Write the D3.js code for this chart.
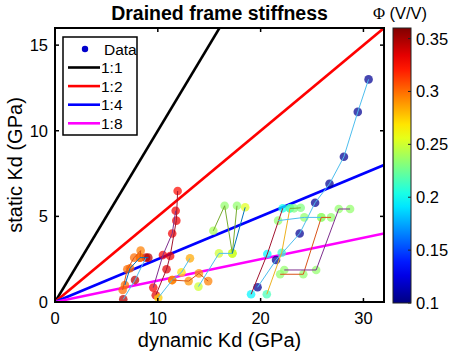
<!DOCTYPE html>
<html><head><meta charset="utf-8">
<script src="https://cdn.jsdelivr.net/npm/d3@7"></script>
<style>body{margin:0;background:#fff}svg{display:block;font-family:"Liberation Sans",Arial,sans-serif}</style>
</head><body><svg id="c" width="474" height="354"></svg>
<script>
const xTicks = [0, 10, 20, 30];
const yTicks = [0, 5, 10, 15];
const cbTicks = [0.1, 0.15, 0.2, 0.25, 0.3, 0.35];
const ratioLines = [
  {label: "1:1", slope: 1, color: "#000000"},
  {label: "1:2", slope: 0.5, color: "#ff0000"},
  {label: "1:4", slope: 0.25, color: "#0000ff"},
  {label: "1:8", slope: 0.125, color: "#ff00ff"}
];
// each sample: line colour (MATLAB default order) and points [dynamic Kd, static Kd, porosity]
const s1 = [[19.7,0.86,0.105],[21.5,2.45,0.105],[23.8,4.0,0.105],[25.3,5.8,0.105],[26.7,6.9,0.105],[28.1,8.48,0.105],[29.45,11.1,0.105],[30.5,13.0,0.105]];
const s2 = [[9.56,0.84,0.33],[10.5,2.74,0.33],[11.4,4.0,0.33],[11.74,5.33,0.33]];
const s3 = [[9.8,0.39,0.335],[10.85,1.91,0.335],[11.2,2.69,0.33],[11.8,4.75,0.33],[11.93,6.48,0.325]];
const s4 = [[6.58,0.7,0.3],[7.03,1.91,0.3],[7.7,2.59,0.3],[8.33,3.0,0.295],[8.27,2.59,0.3]];
const s5 = [[6.64,0.16,0.345],[7.78,1.28,0.345],[8.85,2.59,0.345]];
const s6 = [[6.8,0.99,0.3],[7.3,1.97,0.3],[8.27,2.59,0.3],[9.08,2.59,0.345]];
const s7 = [[10.05,0.25,0.275],[11.4,1.28,0.295],[12.3,1.73,0.27],[13.13,2.55,0.285]];
const s8 = [[11.4,1.28,0.295],[13.0,1.22,0.29],[14.0,1.67,0.29],[14.9,1.22,0.295]];
const s9 = [[13.95,0.9,0.25],[15.95,2.84,0.25],[17.25,2.84,0.25]];
const s10 = [[15.4,4.16,0.24],[16.5,5.62,0.235],[17.25,2.84,0.25],[17.7,5.62,0.235]];
const s11 = [[17.25,2.84,0.25],[18.5,5.53,0.255]];
const s12 = [[19.07,0.45,0.195],[20.65,2.8,0.195],[22.15,5.47,0.2]];
const s13 = [[20.6,0.45,0.215],[22.05,2.88,0.21],[22.85,5.47,0.215]];
const s14 = [[21.7,4.75,0.235],[24.25,4.94,0.235],[25.9,4.94,0.235]];
const s15 = [[21.9,1.62,0.235],[24.15,1.62,0.235],[25.9,4.94,0.235],[26.85,4.94,0.235]];
const s16 = [[22.3,1.87,0.235],[25.4,1.87,0.235],[27.6,5.43,0.235],[28.7,5.43,0.235]];
const s17 = [[22.85,5.47,0.215],[23.25,5.47,0.23],[23.9,5.5,0.23]];
const samples = [
  {color:"#4DBEEE", pts:s1},{color:"#7E2F8E", pts:s2},{color:"#A2142F", pts:s3},
  {color:"#D95319", pts:s4},{color:"#4DBEEE", pts:s5},{color:"#0072BD", pts:s6},
  {color:"#4DBEEE", pts:s7},{color:"#D95319", pts:s8},{color:"#4DBEEE", pts:s9},
  {color:"#77AC30", pts:s10},{color:"#0072BD", pts:s11},{color:"#A2142F", pts:s12},
  {color:"#EDB120", pts:s13},{color:"#4DBEEE", pts:s14},{color:"#D95319", pts:s15},
  {color:"#7E2F8E", pts:s16},{color:"#77AC30", pts:s17}
];

const svg = d3.select("#c");
const L = 55, R = 384, T = 28, B = 302;
const x = d3.scaleLinear().domain([0, 32]).range([L, R]);
const y = d3.scaleLinear().domain([0, 16]).range([B, T]);
const cmin = 0.1, cmax = 0.36;
function jet(t){
  const c = v => Math.max(0, Math.min(1, v));
  const r = c(1.5 - Math.abs(4*t - 3)), g = c(1.5 - Math.abs(4*t - 2)), b = c(1.5 - Math.abs(4*t - 1));
  return d3.rgb(r*255, g*255, b*255).formatHex();
}
const col = v => jet((v - cmin) / (cmax - cmin));

svg.append("defs").append("clipPath").attr("id","clip").append("rect")
  .attr("x", L).attr("y", T).attr("width", R-L).attr("height", B-T);

const plot = svg.append("g").attr("clip-path","url(#clip)");
ratioLines.forEach(r => {
  plot.append("line").attr("x1", x(0)).attr("y1", y(0))
    .attr("x2", x(32)).attr("y2", y(32*r.slope))
    .attr("stroke", r.color).attr("stroke-width", 2.6);
});
samples.forEach(s => {
  plot.selectAll(null).data(s.pts).enter().append("circle")
    .attr("cx", d => x(d[0])).attr("cy", d => y(d[1])).attr("r", 4.3)
    .attr("fill", d => col(d[2])).attr("fill-opacity", 0.72);
});
const lineGen = d3.line().x(d => x(d[0])).y(d => y(d[1]));
samples.forEach(s => {
  plot.append("path").attr("d", lineGen(s.pts)).attr("fill","none")
    .attr("stroke", s.color).attr("stroke-width", 1);
});

const ax = svg.append("g");
ax.append("rect").attr("x", L).attr("y", T).attr("width", R-L).attr("height", B-T)
  .attr("fill","none").attr("stroke","#000").attr("stroke-width", 2);
const tl = 4;
xTicks.forEach(t => {
  ax.append("line").attr("x1", x(t)).attr("x2", x(t)).attr("y1", B).attr("y2", B-tl).attr("stroke","#000").attr("stroke-width",1.5);
  ax.append("line").attr("x1", x(t)).attr("x2", x(t)).attr("y1", T).attr("y2", T+tl).attr("stroke","#000").attr("stroke-width",1.5);
  ax.append("text").attr("x", x(t)).attr("y", B+22).attr("text-anchor","middle").attr("font-size",16.5).text(t);
});
yTicks.forEach(t => {
  ax.append("line").attr("x1", L).attr("x2", L+tl).attr("y1", y(t)).attr("y2", y(t)).attr("stroke","#000").attr("stroke-width",1.5);
  ax.append("line").attr("x1", R).attr("x2", R-tl).attr("y1", y(t)).attr("y2", y(t)).attr("stroke","#000").attr("stroke-width",1.5);
  ax.append("text").attr("x", L-7).attr("y", y(t)+6).attr("text-anchor","end").attr("font-size",16.5).text(t);
});
svg.append("text").attr("x", (L+R)/2).attr("y", 347).attr("text-anchor","middle").attr("font-size",20).text("dynamic Kd (GPa)");
svg.append("text").attr("transform", `translate(22,${(T+B)/2}) rotate(-90)`).attr("text-anchor","middle").attr("font-size",20).text("static Kd (GPa)");
svg.append("text").attr("x", (L+R)/2).attr("y", 20).attr("text-anchor","middle").attr("font-size",19.5).attr("font-weight","bold").text("Drained frame stiffness");

const lg = svg.append("g");
lg.append("rect").attr("x",63).attr("y",37).attr("width",74).attr("height",98).attr("fill","#fff").attr("stroke","#000").attr("stroke-width",1.5);
lg.append("circle").attr("cx",85).attr("cy",49).attr("r",3.2).attr("fill","#0000cc");
lg.append("text").attr("x",104).attr("y",54.5).attr("font-size",15.5).text("Data");
ratioLines.forEach((r,i) => {
  const yy = 67.5 + i*18.6;
  lg.append("line").attr("x1",68).attr("x2",100).attr("y1",yy).attr("y2",yy).attr("stroke",r.color).attr("stroke-width",2.6);
  lg.append("text").attr("x",101).attr("y",yy+5.5).attr("font-size",15.5).text(r.label);
});

const cbX = 393, cbW = 18, cbT = 28, cbB = 303;
const cy = d3.scaleLinear().domain([cmin, cmax]).range([cbB, cbT]);
const grad = svg.select("defs").append("linearGradient").attr("id","jet").attr("x1",0).attr("y1",1).attr("x2",0).attr("y2",0);
d3.range(0, 1.0001, 0.05).forEach(t => grad.append("stop").attr("offset", t).attr("stop-color", jet(t)));
svg.append("rect").attr("x",cbX).attr("y",cbT).attr("width",cbW).attr("height",cbB-cbT).attr("fill","url(#jet)")
  .attr("stroke","#222").attr("stroke-width",1);
cbTicks.forEach(t => {
  svg.append("line").attr("x1",cbX+cbW).attr("x2",cbX+cbW-3).attr("y1",cy(t)).attr("y2",cy(t)).attr("stroke","#222").attr("stroke-width",1);
  svg.append("text").attr("x",cbX+cbW+5).attr("y",cy(t)+6).attr("font-size",16.5).text(d3.format("")(t));
});
const ph = svg.append("text").attr("x",400).attr("y",19).attr("text-anchor","middle").attr("font-size",16.5);
ph.append("tspan").attr("font-family","'Liberation Serif','DejaVu Serif',serif").text("Φ");
ph.append("tspan").text(" (V/V)");
</script></body></html>
